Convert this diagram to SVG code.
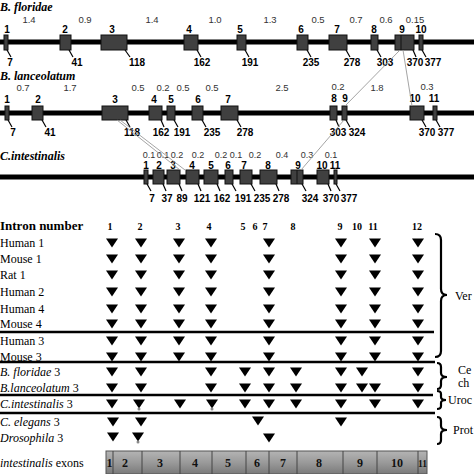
<svg xmlns="http://www.w3.org/2000/svg" xmlns:xlink="http://www.w3.org/1999/xlink" width="474" height="474" viewBox="0 0 474 474">
<style>
.gl{stroke:#000;stroke-width:5}
.ex{fill:#404040;stroke:#111;stroke-width:1}
.tk{stroke:#000;stroke-width:1.2}
.cn{stroke:#9a9a9a;stroke-width:0.9;fill:none}
.lb{font-family:"Liberation Sans",Arial,sans-serif;font-weight:bold;font-size:10px;text-anchor:middle;fill:#000}
.nm{font-family:"Liberation Sans",Arial,sans-serif;font-weight:bold;font-size:10px;text-anchor:middle;fill:#000}
.sz{font-family:"Liberation Sans",Arial,sans-serif;font-size:9.5px;text-anchor:middle;fill:#333}
.sz9{font-size:9px}
.ti{font-family:"Liberation Serif","Times New Roman",serif;font-weight:bold;font-style:italic;font-size:12px;fill:#000}
.rw{font-family:"Liberation Serif","Times New Roman",serif;font-size:12px;fill:#000}
.it{font-style:italic}
.hd{font-family:"Liberation Serif","Times New Roman",serif;font-weight:bold;font-size:10px;text-anchor:middle;fill:#000}
.sep{stroke:#000;stroke-width:2.5}
.br{stroke:#000;stroke-width:2.2;fill:none}
.bl{font-family:"Liberation Serif","Times New Roman",serif;font-weight:bold;font-size:12px;text-anchor:middle;fill:#111}
.dv{stroke:#444;stroke-width:1}
.dot{fill:#8a8a8a}
</style>
<defs>
<path id="tri" d="M-6,-4.5 L6,-4.5 L0,4.5 Z" fill="#000"/>
<linearGradient id="barg" x1="0" y1="0" x2="0" y2="1">
<stop offset="0" stop-color="#b4b4b4"/>
<stop offset="0.5" stop-color="#9a9a9a"/>
<stop offset="1" stop-color="#7a7a7a"/>
</linearGradient>
</defs>
<rect width="474" height="474" fill="#fff"/>

<!-- B. floridae track -->
<g id="floridae">
<text class="ti" x="0" y="11">B. floridae</text>
<line class="gl" x1="0" y1="42" x2="474" y2="42"/>
<g class="sz">
<text x="29" y="23">1.4</text><text x="85" y="23">0.9</text><text x="152" y="23">1.4</text><text x="215" y="23">1.0</text><text x="270" y="23">1.3</text><text x="318" y="23">0.5</text><text x="356" y="23">0.7</text><text x="386" y="23">0.6</text><text x="415" y="23">0.15</text>
</g>
<rect class="ex" x="4" y="35" width="4" height="15"/>
<rect class="ex" x="60" y="35" width="11" height="15"/>
<rect class="ex" x="101" y="35" width="26" height="15"/>
<rect class="ex" x="184" y="35" width="14" height="15"/>
<rect class="ex" x="237" y="35" width="9" height="15"/>
<rect class="ex" x="297" y="35" width="11" height="15"/>
<rect class="ex" x="329" y="35" width="18" height="15"/>
<rect class="ex" x="371" y="35" width="7" height="15"/>
<rect class="ex" x="395" y="35" width="19" height="15"/>
<line x1="401" y1="35" x2="401" y2="50" stroke="#111" stroke-width="1"/>
<rect class="ex" x="419" y="35" width="4" height="15"/>
<g class="lb">
<text x="7" y="33">1</text><text x="65" y="33">2</text><text x="112" y="33">3</text><text x="189" y="33">4</text><text x="240" y="33">5</text><text x="301" y="33">6</text><text x="337" y="33">7</text><text x="374" y="33">8</text><text x="402" y="33">9</text><text x="421" y="33">10</text>
</g>
<g class="tk">
<line x1="7" y1="50" x2="11" y2="57"/><line x1="69" y1="50" x2="73" y2="57"/><line x1="125" y1="50" x2="130" y2="57"/><line x1="197" y1="50" x2="201" y2="57"/><line x1="245" y1="50" x2="249" y2="57"/><line x1="307" y1="50" x2="311" y2="57"/><line x1="346" y1="50" x2="350" y2="57"/><line x1="377" y1="50" x2="381" y2="57"/><line x1="413" y1="50" x2="416" y2="57"/><line x1="422" y1="50" x2="426" y2="57"/>
</g>
<g class="nm">
<text x="10" y="66">7</text><text x="77" y="66">41</text><text x="137" y="66">118</text><text x="202" y="66">162</text><text x="250" y="66">191</text><text x="311" y="66">235</text><text x="352" y="66">278</text><text x="385" y="66">303</text><text x="415" y="66">370</text><text x="433" y="66">377</text>
</g>
</g>

<!-- B. lanceolatum track -->
<g id="lanceolatum">
<text class="ti" x="0" y="80">B. lanceolatum</text>
<line class="gl" x1="0" y1="113" x2="474" y2="113"/>
<g class="sz">
<text x="23" y="91">0.7</text><text x="70" y="91">1.7</text><text x="138" y="91">0.5</text><text x="163" y="91">0.2</text><text x="183" y="91">0.5</text><text x="212" y="91">0.5</text><text x="282" y="91">2.5</text><text x="338" y="90">0.2</text><text x="377" y="91">1.8</text><text x="427" y="90">0.3</text>
</g>
<rect class="ex" x="5" y="106" width="4" height="14"/>
<rect class="ex" x="32" y="106" width="11" height="14"/>
<rect class="ex" x="102" y="106" width="26" height="14"/>
<rect class="ex" x="149" y="106" width="13" height="14"/>
<rect class="ex" x="167" y="106" width="8" height="14"/>
<rect class="ex" x="192" y="106" width="11" height="14"/>
<rect class="ex" x="221" y="106" width="17" height="14"/>
<rect class="ex" x="330" y="106" width="7" height="14"/>
<rect class="ex" x="342" y="106" width="5" height="14"/>
<rect class="ex" x="410" y="106" width="14" height="14"/>
<rect class="ex" x="433" y="106" width="4" height="14"/>
<g class="lb">
<text x="7" y="103">1</text><text x="38" y="103">2</text><text x="115" y="103">3</text><text x="154" y="103">4</text><text x="171" y="103">5</text><text x="198" y="103">6</text><text x="228" y="103">7</text><text x="334" y="102">8</text><text x="345" y="102">9</text><text x="415" y="102">10</text><text x="434" y="102">11</text>
</g>
<g class="tk">
<line x1="8" y1="120" x2="12" y2="127"/><line x1="42" y1="120" x2="46" y2="127"/><line x1="126" y1="120" x2="130" y2="127"/><line x1="161" y1="120" x2="164" y2="127"/><line x1="174" y1="120" x2="178" y2="127"/><line x1="202" y1="120" x2="206" y2="127"/><line x1="237" y1="120" x2="241" y2="127"/><line x1="336" y1="120" x2="339" y2="127"/><line x1="346" y1="120" x2="350" y2="127"/><line x1="422" y1="120" x2="426" y2="127"/><line x1="436" y1="120" x2="440" y2="127"/>
</g>
<g class="nm">
<text x="13" y="136">7</text><text x="50" y="136">41</text><text x="132" y="136">118</text><text x="161" y="136">162</text><text x="182" y="136">191</text><text x="212" y="136">235</text><text x="245" y="136">278</text><text x="338" y="136">303</text><text x="357" y="136">324</text><text x="427" y="136">370</text><text x="446" y="136">377</text>
</g>
</g>

<!-- C. intestinalis track -->
<g id="intestinalis">
<text class="ti" x="0" y="160">C.intestinalis</text>
<line class="gl" x1="0" y1="177" x2="474" y2="177"/>
<g class="sz sz9">
<text x="149" y="158">0.1</text><text x="163" y="158">0.1</text><text x="177" y="158">0.2</text><text x="198" y="158">0.2</text><text x="221" y="158">0.2</text><text x="236" y="158">0.1</text><text x="255" y="158">0.2</text><text x="282" y="158">0.4</text><text x="307" y="158">0.3</text><text x="331" y="158">0.1</text>
</g>
<rect class="ex" x="144" y="170" width="4" height="14"/>
<rect class="ex" x="153" y="170" width="11" height="14"/>
<rect class="ex" x="167" y="170" width="13" height="14"/>
<rect class="ex" x="186" y="170" width="13" height="14"/>
<rect class="ex" x="204" y="170" width="14" height="14"/>
<rect class="ex" x="225" y="170" width="8" height="14"/>
<rect class="ex" x="240" y="170" width="12" height="14"/>
<rect class="ex" x="260" y="170" width="17" height="14"/>
<rect class="ex" x="291" y="170" width="12" height="14"/>
<line x1="297" y1="170" x2="297" y2="184" stroke="#111" stroke-width="1"/>
<rect class="ex" x="317" y="170" width="12" height="14"/>
<rect class="ex" x="334" y="170" width="3" height="14"/>
<g class="lb">
<text x="146" y="169">1</text><text x="159" y="169">2</text><text x="173" y="169">3</text><text x="192" y="169">4</text><text x="211" y="169">5</text><text x="228" y="169">6</text><text x="244" y="169">7</text><text x="268" y="169">8</text><text x="298" y="169">9</text><text x="322" y="169">10</text><text x="335" y="169">11</text>
</g>
<g class="tk">
<line x1="147" y1="184" x2="151" y2="191"/><line x1="163" y1="184" x2="166" y2="191"/><line x1="179" y1="184" x2="182" y2="191"/><line x1="198" y1="184" x2="201" y2="191"/><line x1="217" y1="184" x2="220" y2="191"/><line x1="232" y1="184" x2="236" y2="191"/><line x1="251" y1="184" x2="255" y2="191"/><line x1="276" y1="184" x2="279" y2="191"/><line x1="302" y1="184" x2="306" y2="191"/><line x1="328" y1="184" x2="331" y2="191"/><line x1="336" y1="184" x2="340" y2="191"/>
</g>
<g class="nm">
<text x="152" y="202">7</text><text x="167" y="202">37</text><text x="182" y="202">89</text><text x="202" y="202">121</text><text x="222" y="202">162</text><text x="243" y="202">191</text><text x="262" y="202">235</text><text x="281" y="202">278</text><text x="310" y="202">324</text><text x="331" y="202">370</text><text x="349" y="202">377</text>
</g>
</g>

<!-- grey correspondence lines -->
<g id="connectors">
<line class="cn" x1="400" y1="50" x2="345" y2="106"/>
<line class="cn" x1="403" y1="50" x2="412" y2="106"/>
<line class="cn" x1="344" y1="120" x2="301" y2="170"/>
<line class="cn" x1="117" y1="120" x2="180" y2="170"/>
<line class="cn" x1="120" y1="120" x2="185" y2="170"/>
</g>

<!-- intron table -->
<g id="header">
<text x="0" y="230" font-family="Liberation Serif, Times New Roman, serif" font-weight="bold" font-size="13">Intron number</text>
<g class="hd">
<text x="110" y="230">1</text><text x="140" y="230">2</text><text x="178" y="230">3</text><text x="209" y="230">4</text><text x="243" y="230">5</text><text x="255" y="230">6</text><text x="265" y="230">7</text><text x="293" y="230">8</text><text x="340" y="230">9</text><text x="357" y="230">10</text><text x="373" y="230">11</text><text x="417" y="230">12</text>
</g>
</g>

<g id="row-human1"><text class="rw" x="0" y="247">Human 1</text>
<use xlink:href="#tri" x="112" y="243"/><use xlink:href="#tri" x="141" y="243"/><use xlink:href="#tri" x="179" y="243"/><use xlink:href="#tri" x="211" y="243"/><use xlink:href="#tri" x="269" y="243"/><use xlink:href="#tri" x="341" y="243"/><use xlink:href="#tri" x="375" y="243"/><use xlink:href="#tri" x="418" y="243"/></g>
<g id="row-mouse1"><text class="rw" x="0" y="263">Mouse 1</text>
<use xlink:href="#tri" x="112" y="259"/><use xlink:href="#tri" x="141" y="259"/><use xlink:href="#tri" x="179" y="259"/><use xlink:href="#tri" x="211" y="259"/><use xlink:href="#tri" x="269" y="259"/><use xlink:href="#tri" x="341" y="259"/><use xlink:href="#tri" x="375" y="259"/><use xlink:href="#tri" x="418" y="259"/></g>
<g id="row-rat1"><text class="rw" x="0" y="279">Rat 1</text>
<use xlink:href="#tri" x="112" y="275"/><use xlink:href="#tri" x="141" y="275"/><use xlink:href="#tri" x="179" y="275"/><use xlink:href="#tri" x="211" y="275"/><use xlink:href="#tri" x="269" y="275"/><use xlink:href="#tri" x="341" y="275"/><use xlink:href="#tri" x="375" y="275"/><use xlink:href="#tri" x="418" y="275"/></g>
<g id="row-human2"><text class="rw" x="0" y="296">Human 2</text>
<use xlink:href="#tri" x="112" y="292"/><use xlink:href="#tri" x="141" y="292"/><use xlink:href="#tri" x="179" y="292"/><use xlink:href="#tri" x="211" y="292"/><use xlink:href="#tri" x="269" y="292"/><use xlink:href="#tri" x="341" y="292"/><use xlink:href="#tri" x="375" y="292"/><use xlink:href="#tri" x="418" y="292"/></g>
<g id="row-human4"><text class="rw" x="0" y="313">Human 4</text>
<use xlink:href="#tri" x="112" y="309"/><use xlink:href="#tri" x="141" y="309"/><use xlink:href="#tri" x="179" y="309"/><use xlink:href="#tri" x="211" y="309"/><use xlink:href="#tri" x="269" y="309"/><use xlink:href="#tri" x="341" y="309"/><use xlink:href="#tri" x="375" y="309"/><use xlink:href="#tri" x="418" y="309"/></g>
<g id="row-mouse4"><text class="rw" x="0" y="328">Mouse 4</text>
<use xlink:href="#tri" x="112" y="324"/><use xlink:href="#tri" x="141" y="324"/><use xlink:href="#tri" x="179" y="324"/><use xlink:href="#tri" x="211" y="324"/><use xlink:href="#tri" x="269" y="324"/><use xlink:href="#tri" x="341" y="324"/><use xlink:href="#tri" x="375" y="324"/><use xlink:href="#tri" x="418" y="324"/></g>
<g id="row-human3"><text class="rw" x="0" y="345">Human 3</text>
<use xlink:href="#tri" x="112" y="341"/><use xlink:href="#tri" x="141" y="341"/><use xlink:href="#tri" x="179" y="341"/><use xlink:href="#tri" x="211" y="341"/><use xlink:href="#tri" x="269" y="341"/><use xlink:href="#tri" x="341" y="341"/><use xlink:href="#tri" x="375" y="341"/><use xlink:href="#tri" x="418" y="341"/></g>
<g id="row-mouse3"><text class="rw" x="0" y="361">Mouse 3</text>
<use xlink:href="#tri" x="112" y="357"/><use xlink:href="#tri" x="141" y="357"/><use xlink:href="#tri" x="179" y="357"/><use xlink:href="#tri" x="211" y="357"/><use xlink:href="#tri" x="269" y="357"/><use xlink:href="#tri" x="341" y="357"/><use xlink:href="#tri" x="375" y="357"/><use xlink:href="#tri" x="418" y="357"/></g>
<g id="row-bflor3"><text class="rw" x="0" y="376"><tspan class="it">B. floridae</tspan> 3</text>
<use xlink:href="#tri" x="112" y="372"/><use xlink:href="#tri" x="141" y="372"/><use xlink:href="#tri" x="211" y="372"/><use xlink:href="#tri" x="245" y="372"/><use xlink:href="#tri" x="269" y="372"/><use xlink:href="#tri" x="296" y="372"/><use xlink:href="#tri" x="341" y="372"/><use xlink:href="#tri" x="362" y="372"/><use xlink:href="#tri" x="418" y="372"/></g>
<g id="row-blanc3"><text class="rw" x="0" y="392"><tspan class="it">B.lanceolatum</tspan> 3</text>
<use xlink:href="#tri" x="112" y="388"/><use xlink:href="#tri" x="141" y="388"/><use xlink:href="#tri" x="211" y="388"/><use xlink:href="#tri" x="245" y="388"/><use xlink:href="#tri" x="269" y="388"/><use xlink:href="#tri" x="296" y="388"/><use xlink:href="#tri" x="341" y="388"/><use xlink:href="#tri" x="362" y="388"/><use xlink:href="#tri" x="375" y="388"/><use xlink:href="#tri" x="418" y="388"/></g>
<g id="row-cint3"><text class="rw" x="0" y="408"><tspan class="it">C.intestinalis</tspan> 3</text>
<use xlink:href="#tri" x="112" y="404"/><use xlink:href="#tri" x="139" y="404"/><use xlink:href="#tri" x="180" y="404"/><use xlink:href="#tri" x="212" y="404"/><use xlink:href="#tri" x="245" y="404"/><use xlink:href="#tri" x="269" y="404"/><use xlink:href="#tri" x="296" y="404"/><use xlink:href="#tri" x="341" y="404"/><use xlink:href="#tri" x="375" y="404"/><use xlink:href="#tri" x="418" y="404"/>
<circle class="dot" cx="139" cy="409" r="1.5"/><circle class="dot" cx="212" cy="409" r="1.5"/></g>
<g id="row-celeg3"><text class="rw" x="0" y="426"><tspan class="it">C. elegans</tspan> 3</text>
<use xlink:href="#tri" x="113" y="422"/><use xlink:href="#tri" x="141" y="422"/><use xlink:href="#tri" x="258" y="421"/><use xlink:href="#tri" x="341" y="422"/></g>
<g id="row-dros3"><text class="rw" x="0" y="442"><tspan class="it">Drosophila</tspan> 3</text>
<use xlink:href="#tri" x="113" y="437"/><use xlink:href="#tri" x="138" y="437"/><use xlink:href="#tri" x="269" y="438"/>
<circle class="dot" cx="138" cy="442" r="1.5"/></g>

<g id="separators">
<line class="sep" x1="0" y1="332" x2="434" y2="332"/>
<line class="sep" x1="0" y1="362" x2="435" y2="362"/>
<line class="sep" x1="0" y1="395" x2="433" y2="395"/>
<line class="sep" x1="0" y1="413" x2="435" y2="413"/>
</g>

<g id="brace-vertebrates">
<path class="br" d="M435,234 Q441,234 441,240 L441,289 Q441,295 447,295 Q441,295 441,301 L441,351 Q441,357 435,357"/>
<text class="rw" x="455" y="300">Ver</text>
</g>
<g id="brace-cephalochordates">
<path class="br" d="M437,363 Q441,363 441,367 L441,373 Q441,377 447,377 Q441,377 441,381 L441,385 Q441,389 437,389"/>
<text class="rw" x="458" y="374" font-size="11">Ce</text>
<text class="rw" x="458" y="387" font-size="11">ch</text>
</g>
<g id="brace-urochordates">
<path class="br" d="M437,391 Q441,391 441,394 L441,397 Q441,400 446,400 Q441,400 441,403 L441,406 Q441,409 437,409"/>
<text class="rw" x="448" y="404">Uroc</text>
</g>
<g id="brace-protostomes">
<path class="br" d="M437,417 Q441,417 441,421 L441,426 Q441,430 447,430 Q441,430 441,434 L441,440 Q441,444 437,444"/>
<text class="rw" x="453" y="434">Prot</text>
</g>

<g id="exon-bar">
<text class="rw" x="0" y="467"><tspan class="it">intestinalis</tspan> exons</text>
<rect x="106" y="451" width="321" height="23" fill="url(#barg)" stroke="#555" stroke-width="1"/>
<g class="dv">
<line x1="113" y1="451" x2="113" y2="474"/><line x1="142" y1="451" x2="142" y2="474"/><line x1="180" y1="451" x2="180" y2="474"/><line x1="212" y1="451" x2="212" y2="474"/><line x1="246" y1="451" x2="246" y2="474"/><line x1="269" y1="451" x2="269" y2="474"/><line x1="297" y1="451" x2="297" y2="474"/><line x1="343" y1="451" x2="343" y2="474"/><line x1="377" y1="451" x2="377" y2="474"/><line x1="418" y1="451" x2="418" y2="474"/>
</g>
<g class="bl">
<text x="109.5" y="467">1</text><text x="125" y="467">2</text><text x="160" y="467">3</text><text x="195" y="467">4</text><text x="228" y="467">5</text><text x="257" y="467">6</text><text x="283" y="467">7</text><text x="319" y="467">8</text><text x="360" y="467">9</text><text x="397" y="467">10</text><text x="422.5" y="467" font-size="9.5">11</text>
</g>
</g>
</svg>
